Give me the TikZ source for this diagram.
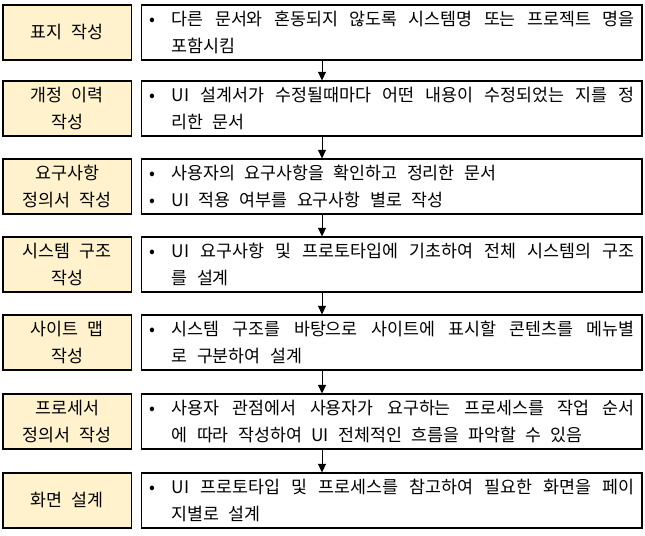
\documentclass[tikz,border=0pt]{standalone}
\usepackage{fontspec}
\setmainfont{Noto Sans CJK KR}[WordSpace=2.4]
\usetikzlibrary{arrows.meta}
\definecolor{titlefill}{RGB}{255,242,204}
\newcommand{\bul}[1]{\hangindent=17pt\hangafter=1\noindent\makebox[17pt][l]{•}#1\par}
\begin{document}
\begin{tikzpicture}[x=0.75pt,y=0.75pt,yscale=-1,xscale=1,
	leftbox/.style={draw, line width=0.8pt, fill=titlefill, minimum width=96.4pt, minimum height=41.25pt, align=center, inner sep=0pt, font=\fontsize{13}{20}\selectfont},
	rightbox/.style={draw, line width=0.8pt, minimum width=375.4pt, minimum height=41.25pt, text width=364pt, align=justify, inner xsep=5.6pt, inner ysep=0pt, font=\fontsize{13}{20}\selectfont},
	flow/.style={line width=0.75pt, -{Triangle[width=6pt,length=6.5pt]}}]
	\useasboundingbox (0,0) rectangle (645,535);
	\coordinate (mid) at (322,0);
	
	% titles
	\node [leftbox] (t1) at (67.25,32.5) {표지 작성};
	\node [leftbox] (t2) at (67.25,108.5) {개정 이력\\작성};
	\node [leftbox] (t3) at (67.25,186.5) {요구사항\\정의서 작성};
	\node [leftbox] (t4) at (67.25,264.5) {시스템 구조\\작성};
	\node [leftbox] (t5) at (67.25,342.5) {사이트 맵\\작성};
	\node [leftbox] (t6) at (67.25,421.5) {프로세서\\정의서 작성};
	\node [leftbox] (t7) at (67.25,500.5) {화면 설계};
	
	% descriptions
	\node [rightbox] (d1) at (391.75,32.5) {\bul{다른 문서와 혼동되지 않도록 시스템명 또는 프로젝트 명을\linebreak 포함시킴}};
	\node [rightbox] (d2) at (391.75,108.5) {\bul{UI 설계서가 수정될때마다 어떤 내용이 수정되었는 지를 정\linebreak 리한 문서}};
	\node [rightbox] (d3) at (391.75,186.5) {\bul{사용자의 요구사항을 확인하고 정리한 문서}\bul{UI 적용 여부를 요구사항 별로 작성}};
	\node [rightbox] (d4) at (391.75,264.5) {\bul{UI 요구사항 및 프로토타입에 기초하여 전체 시스템의 구조\linebreak 를 설계}};
	\node [rightbox] (d5) at (391.75,342.5) {\bul{시스템 구조를 바탕으로 사이트에 표시할 콘텐츠를 메뉴별\linebreak 로 구분하여 설계}};
	\node [rightbox] (d6) at (391.75,421.5) {\bul{사용자 관점에서 사용자가 요구하는 프로세스를 작업 순서\linebreak 에 따라 작성하여 UI 전체적인 흐름을 파악할 수 있음}};
	\node [rightbox] (d7) at (391.75,500.5) {\bul{UI 프로토타입 및 프로세스를 참고하여 필요한 화면을 페이\linebreak 지별로 설계}};
	
	% flow arrows
	\draw [flow] (d1.south -| mid) -- (d2.north -| mid);
	\draw [flow] (d2.south -| mid) -- (d3.north -| mid);
	\draw [flow] (d3.south -| mid) -- (d4.north -| mid);
	\draw [flow] (d4.south -| mid) -- (d5.north -| mid);
	\draw [flow] (d5.south -| mid) -- (d6.north -| mid);
	\draw [flow] (d6.south -| mid) -- (d7.north -| mid);
	
\end{tikzpicture}
\end{document}
